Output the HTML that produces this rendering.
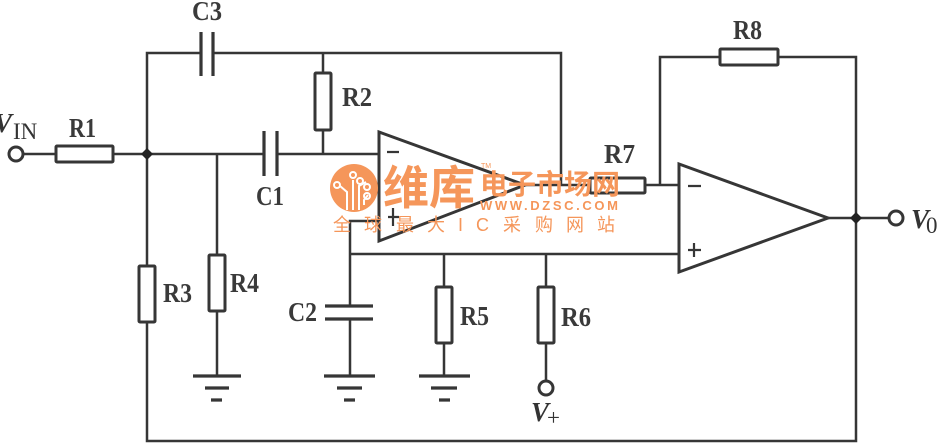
<!DOCTYPE html>
<html><head><meta charset="utf-8"><style>
html,body{margin:0;padding:0;background:#fff;width:939px;height:443px;overflow:hidden}
svg{display:block;filter:blur(0.35px)}
.l{font-family:"Liberation Serif",serif;font-size:27px;font-weight:bold;fill:#3a3a3a;stroke:none}
.i{font-family:"Liberation Serif",serif;font-style:italic;font-weight:bold;font-size:27px;fill:#333;stroke:none}
.s{font-family:"Liberation Serif",serif;font-size:23px;fill:#333;stroke:none}
.w{font-family:"Liberation Sans","Noto Sans CJK SC",sans-serif;fill:#f5965a;stroke:none}
</style></head><body>
<svg width="939" height="443" viewBox="0 0 939 443" xmlns="http://www.w3.org/2000/svg">
<g fill="none" stroke="#363636" stroke-width="2.5">
<path d="M23 154H56M113 154H264M277 154H379"/>
<path d="M147 154V53H201M213 53H561V185"/>
<path d="M147 154V266M147 322V441H856V57H778M720 57H660V185"/>
<path d="M217 154V255M217 311V376"/>
<path d="M323 53V73M323 130V154"/>
<path d="M525 185H590M645 185H679"/>
<path d="M379 221H350V306M350 319V376M350 254H679"/>
<path d="M444 254V287M444 343V376M546 254V287M546 343V381"/>
<path d="M828 218H889"/>
<g stroke-width="3">
<rect x="56" y="146" width="57" height="16" rx="1"/>
<rect x="315" y="73" width="16" height="57" rx="1"/>
<rect x="139" y="266" width="16" height="56" rx="1"/>
<rect x="209" y="255" width="16" height="56" rx="1"/>
<rect x="436" y="287" width="16" height="56" rx="1"/>
<rect x="538" y="287" width="16" height="56" rx="1"/>
<rect x="590" y="178" width="55" height="15" rx="1"/>
<rect x="720" y="49" width="58" height="16" rx="1"/>
<circle cx="16" cy="154" r="7"/>
<circle cx="896" cy="218" r="7"/>
<circle cx="546" cy="388" r="7"/>
</g>
<g stroke-width="3.2">
<path d="M201 32V76M213 32V76M264 131V176M277 131V176"/>
<path d="M325 306H373M325 319H373"/>
<path d="M193 376H241M205 388H229M211 400H222"/>
<path d="M324 376H375M337 388H362M344 400H355"/>
<path d="M419 376H470M431 388H457M439 400H450"/>
</g>
<path d="M379 132V241L525 185Z" stroke-width="3" fill="#fff"/>
<path d="M679 164V272L828 218Z" stroke-width="3" fill="#fff"/>
<path d="M387 152H399M688 186H701M688 250H701M694 243V257M388 217H399M393 208V226" stroke-width="2.2"/>
</g>
<path d="M147 148L153 154L147 160L141 154ZM856 212L862 218L856 224L850 218Z" fill="#222"/>

<text class="l" x="192" y="20" textLength="30" lengthAdjust="spacingAndGlyphs">C3</text>
<text class="l" x="69" y="137" textLength="27" lengthAdjust="spacingAndGlyphs">R1</text>
<text class="l" x="342" y="106" textLength="30" lengthAdjust="spacingAndGlyphs">R2</text>
<text class="l" x="256" y="205" textLength="28" lengthAdjust="spacingAndGlyphs">C1</text>
<text class="l" x="163" y="302" textLength="29" lengthAdjust="spacingAndGlyphs">R3</text>
<text class="l" x="230" y="292" textLength="29" lengthAdjust="spacingAndGlyphs">R4</text>
<text class="l" x="288" y="321" textLength="29" lengthAdjust="spacingAndGlyphs">C2</text>
<text class="l" x="460" y="325" textLength="29" lengthAdjust="spacingAndGlyphs">R5</text>
<text class="l" x="561" y="326" textLength="30" lengthAdjust="spacingAndGlyphs">R6</text>
<text class="l" x="604" y="163" textLength="31" lengthAdjust="spacingAndGlyphs">R7</text>
<text class="l" x="733" y="39" textLength="29" lengthAdjust="spacingAndGlyphs">R8</text>
<text class="i" x="-6" y="132">V</text>
<text class="s" x="13" y="139">IN</text>
<text class="i" x="911" y="228">V</text>
<text class="s" x="926" y="233">0</text>
<text class="i" x="531" y="421">V</text>
<text class="s" x="547" y="425" font-size="26">+</text>

<circle cx="354" cy="188" r="24" fill="#f5965a"/>
<g fill="none" stroke="#fff" stroke-width="2">
<path d="M353 210V180M359 210V186L366 182M347 210V192L340 186M364 205V200L368 195"/>
<circle cx="353" cy="175" r="3"/><circle cx="360" cy="181" r="3"/><circle cx="337" cy="185" r="3"/><circle cx="367" cy="187" r="3"/><circle cx="367" cy="196" r="3"/>
</g>
<text class="w" x="383" y="204" font-size="46" font-weight="bold">维库</text>
<text class="w" x="480" y="194" font-size="28" font-weight="bold">电子市场网</text>
<text class="w" x="480" y="210" font-size="13" font-weight="bold" textLength="138" lengthAdjust="spacing">WWW.DZSC.COM</text>
<text class="w" x="481" y="168" font-size="7">TM</text>
<text class="w" y="231" font-size="18" x="333 364 396 427 458 476 503 535 566 597">全球最大IC采购网站</text>
</svg>
</body></html>
